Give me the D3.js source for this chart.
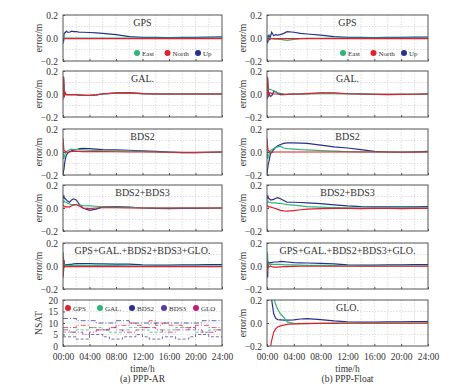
<!DOCTYPE html>
<html>
<head>
<meta charset="utf-8">
<script src="https://cdn.jsdelivr.net/npm/d3@7"></script>
<style>
  body { margin: 0; background: #fff; }
  svg text { font-family: "Liberation Serif", "DejaVu Serif", serif; fill: #333; }
</style>
</head>
<body>
<div id="chart"></div>
<script>
// time samples (hours), denser at the start where the solutions converge
const times = [0, 0.05, 0.1, 0.15, 0.2, 0.3, 0.4, 0.5, 0.7, 1, 1.3, 1.6, 2, 2.5, 3, 4, 5, 6, 8, 10, 12, 14, 16, 18, 20, 22, 24];

// PPP-AR errors (m)
const gpsArE  = [0, 0.02, -0.01, 0, 0, 0, 0, 0, 0, 0, 0, 0, 0, 0, 0, 0, 0, 0, 0, 0, 0, 0, 0, 0, 0, 0, 0];
const gpsArN  = [-0.01, -0.005, -0.005, -0.005, -0.005, -0.005, -0.005, -0.005, -0.005, -0.005, -0.005, -0.005, -0.005, -0.005, -0.005, -0.005, -0.005, -0.005, -0.005, -0.005, -0.005, -0.005, -0.005, -0.005, -0.005, -0.005, -0.005];
const gpsArU  = [-0.05, 0.02, -0.03, 0.03, 0.04, 0.045, 0.05, 0.06, 0.05, 0.05, 0.06, 0.055, 0.055, 0.05, 0.05, 0.048, 0.045, 0.04, 0.03, 0.012, 0.006, 0.005, 0.004, 0.005, 0.006, 0.008, 0.01];
const galArE  = [0.02, 0.1, 0.05, 0.08, 0.02, 0.01, 0, -0.005, -0.005, -0.005, -0.005, -0.005, -0.005, -0.008, -0.01, -0.012, -0.008, 0, 0.008, 0.01, 0.003, 0, 0, 0, 0, 0, 0];
const galArN  = [-0.05, 0.15, 0.12, 0.05, -0.03, 0.02, 0, -0.005, -0.005, -0.005, -0.005, -0.005, -0.005, -0.01, -0.01, -0.012, -0.008, 0.002, 0.01, 0.012, 0.004, 0, 0, 0, 0, 0, 0];
const galArU  = [0, 0.13, 0.15, 0.06, 0.02, 0, -0.005, -0.005, -0.005, -0.005, -0.005, -0.005, -0.005, -0.01, -0.012, -0.013, -0.008, 0, 0.007, 0.008, 0.003, 0, 0, 0, 0, 0, 0];
const bds2ArE = [0.05, -0.02, -0.06, -0.05, -0.04, -0.02, 0, 0.005, 0.01, 0.02, 0.025, 0.02, 0.02, 0.02, 0.018, 0.015, 0.012, 0.01, 0.01, 0.008, 0.005, 0, -0.003, -0.005, -0.005, -0.002, 0];
const bds2ArN = [0.12, 0.08, 0.04, 0.02, 0.01, 0.01, 0, 0, -0.005, 0, 0.005, 0.005, 0.005, 0.005, 0.004, 0.004, 0.004, 0.003, 0.002, 0, 0, 0, -0.002, -0.003, -0.004, -0.002, 0];
const bds2ArU = [-0.2, -0.18, -0.16, -0.15, -0.12, -0.08, -0.05, -0.03, -0.01, 0.005, 0.01, 0.015, 0.02, 0.03, 0.032, 0.03, 0.025, 0.02, 0.018, 0.015, 0.01, 0.005, 0, -0.005, -0.006, -0.003, 0];
const bds3ArE = [0.04, 0.05, 0.06, 0.06, 0.06, 0.05, 0.05, 0.05, 0.04, 0.035, 0.03, 0.03, 0.03, 0.025, 0.02, 0.018, 0.015, 0.01, 0.008, 0.005, 0.002, 0, 0, 0, 0, 0, 0];
const bds3ArN = [0.03, 0.02, 0.02, 0.015, 0.01, 0.01, 0.012, 0.01, 0.01, 0.01, 0.02, 0.025, 0.03, 0.015, 0, -0.005, 0, 0.002, 0.002, 0, 0, 0, 0, 0, 0, 0, 0];
const bds3ArU = [0.11, 0.1, 0.09, 0.1, 0.09, 0.08, 0.08, 0.07, 0.06, 0.05, 0.07, 0.08, 0.07, 0.03, 0, -0.02, -0.01, 0.01, 0.012, 0.008, 0, -0.004, -0.005, -0.004, -0.003, -0.002, 0];
const allArE  = [0.05, 0.12, -0.05, 0.02, 0.01, 0.005, 0.005, 0.005, 0.005, 0.005, 0.005, 0.005, 0.005, 0.005, 0.005, 0.004, 0.004, 0.004, 0.003, 0.002, 0, 0, 0, 0, 0, 0, 0];
const allArN  = [0.08, -0.08, 0.05, 0, -0.01, -0.005, -0.005, -0.005, -0.005, -0.005, -0.005, -0.005, -0.005, -0.005, -0.005, -0.005, -0.005, -0.005, -0.005, -0.005, -0.005, -0.005, -0.005, -0.005, -0.005, -0.005, -0.005];
const allArU  = [-0.1, 0.1, 0.04, 0.05, 0.02, 0.01, 0.01, 0.012, 0.012, 0.015, 0.015, 0.018, 0.02, 0.02, 0.02, 0.02, 0.018, 0.018, 0.017, 0.016, 0.01, 0.008, 0.008, 0.01, 0.01, 0.012, 0.012];

// PPP-Float errors (m)
const gpsFlE  = [0, 0.02, -0.02, 0.01, 0, 0, 0.005, 0, -0.005, -0.008, -0.01, -0.01, -0.012, -0.016, -0.02, -0.012, -0.006, -0.004, -0.002, 0, 0, 0, 0, 0, 0, 0, 0];
const gpsFlN  = [-0.01, -0.005, -0.005, -0.005, -0.005, -0.005, -0.005, -0.005, -0.005, -0.005, -0.005, -0.005, -0.005, -0.005, -0.005, -0.005, -0.005, -0.005, -0.005, -0.005, -0.005, -0.005, -0.005, -0.005, -0.005, -0.005, -0.005];
const gpsFlU  = [-0.05, 0.02, -0.04, -0.03, 0.01, 0.03, -0.02, 0.01, 0.05, 0.02, 0.03, 0.025, 0.03, 0.04, 0.055, 0.05, 0.04, 0.035, 0.025, 0.012, 0.006, 0.005, 0.004, 0.005, 0.006, 0.007, 0.008];
const galFlE  = [0.05, 0.1, 0.06, 0.04, 0.035, 0.04, 0.04, 0.04, 0.035, 0.03, 0.02, 0.01, 0.005, 0, -0.002, -0.002, 0, 0.002, 0.006, 0.004, 0.002, 0, -0.002, -0.004, -0.004, -0.002, 0];
const galFlN  = [0, 0.15, 0.1, 0.05, -0.03, 0, 0.01, 0.01, 0.005, 0, 0, 0, 0, -0.002, -0.003, 0, 0, 0.004, 0.01, 0.01, 0.002, 0, -0.002, -0.004, -0.004, -0.002, 0];
const galFlU  = [-0.05, 0.1, 0.14, 0.08, 0.02, 0.01, -0.01, -0.02, -0.015, 0.02, 0.02, 0.005, -0.005, -0.005, -0.004, 0, 0, 0.003, 0.006, 0.005, 0.002, 0, -0.003, -0.005, -0.004, -0.002, 0];
const bds2FlE = [0.05, -0.02, -0.06, -0.05, -0.04, -0.02, 0, 0.01, 0.02, 0.03, 0.04, 0.045, 0.05, 0.035, 0.03, 0.025, 0.02, 0.018, 0.012, 0.008, 0.004, 0.001, 0, 0, 0, 0, 0];
const bds2FlN = [0.12, 0.08, 0.04, 0.02, 0.01, 0.01, 0, 0, -0.005, 0, 0, 0, 0, 0, 0, 0, 0, 0, 0, 0, 0, 0, 0, 0, -0.002, -0.002, 0];
const bds2FlU = [-0.2, -0.17, -0.14, -0.12, -0.1, -0.08, -0.05, -0.02, 0, 0.02, 0.04, 0.055, 0.065, 0.075, 0.08, 0.08, 0.078, 0.075, 0.06, 0.045, 0.035, 0.02, 0.005, 0, 0, 0.002, 0.006];
const bds3FlE = [0.04, 0.05, 0.06, 0.06, 0.05, 0.05, 0.05, 0.05, 0.045, 0.045, 0.045, 0.04, 0.04, 0.035, 0.03, 0.025, 0.018, 0.012, 0.008, 0.004, 0.002, 0, 0, 0, 0.002, 0.002, 0];
const bds3FlN = [0.03, 0.02, 0.02, 0.015, 0.01, 0.01, 0.01, 0.01, 0.005, 0, -0.005, -0.012, -0.02, -0.025, -0.028, -0.022, -0.015, -0.01, -0.005, -0.003, -0.004, -0.005, -0.004, -0.004, -0.005, -0.004, -0.004];
const bds3FlU = [0.11, 0.1, 0.09, 0.1, 0.09, 0.08, 0.08, 0.07, 0.07, 0.075, 0.085, 0.09, 0.08, 0.065, 0.05, 0.05, 0.048, 0.045, 0.038, 0.028, 0.018, 0.012, 0.01, 0.01, 0.01, 0.01, 0.012];
const allFlE  = [0.05, 0.12, 0.08, -0.02, 0.01, 0.02, 0.015, 0.015, 0.015, 0.015, 0.015, 0.015, 0.015, 0.012, 0.01, 0.01, 0.008, 0.006, 0.005, 0.003, 0.002, 0, 0, 0, 0, 0, 0];
const allFlN  = [0.03, -0.05, 0.02, 0, -0.01, -0.005, -0.005, 0, -0.005, -0.01, -0.01, -0.01, -0.008, -0.006, -0.005, -0.003, -0.002, -0.002, -0.002, -0.002, -0.002, -0.002, -0.002, -0.002, -0.002, -0.002, -0.002];
const allFlU  = [-0.08, 0.05, -0.1, 0.04, 0.02, 0.03, 0.025, 0.03, 0.03, 0.035, 0.035, 0.035, 0.04, 0.038, 0.035, 0.03, 0.028, 0.026, 0.022, 0.018, 0.01, 0.008, 0.008, 0.01, 0.01, 0.012, 0.012];
const gloFlE  = [0.25, 0.25, 0.25, 0.25, 0.25, 0.25, 0.25, 0.25, 0.25, 0.22, 0.16, 0.12, 0.08, 0.05, 0.01, -0.005, -0.006, -0.004, -0.002, 0, 0, 0, 0, 0, 0, 0, 0];
const gloFlN  = [-0.25, -0.25, -0.25, -0.25, -0.25, -0.25, -0.25, -0.22, -0.15, -0.08, -0.05, -0.035, -0.025, -0.018, -0.012, -0.008, -0.006, -0.005, -0.004, -0.003, -0.002, -0.002, -0.002, -0.002, -0.002, -0.002, -0.002];
const gloFlU  = [0.25, 0.25, 0.25, 0.25, 0.25, 0.25, 0.25, 0.25, 0.2, 0.08, 0.04, 0.03, 0.028, 0.025, 0.025, 0.028, 0.035, 0.038, 0.03, 0.018, 0.01, 0.008, 0.008, 0.01, 0.01, 0.012, 0.012];

// number of satellites, hourly
const hours    = d3.range(0, 25);
const nsatGps  = [8, 8, 9, 9, 8, 7, 7, 8, 9, 9, 10, 9, 8, 11, 9, 10, 9, 9, 8, 8, 9, 9, 8, 8, 8];
const nsatGal  = [6, 6, 7, 7, 8, 8, 7, 6, 6, 7, 8, 8, 7, 6, 6, 7, 7, 8, 8, 7, 6, 6, 7, 7, 7];
const nsatBds2 = [12, 12, 11, 11, 11, 10, 10, 10, 11, 11, 10, 10, 10, 10, 10, 10, 10, 10, 10, 10, 10, 11, 11, 11, 11];
const nsatBds3 = [4, 4, 3, 3, 5, 5, 4, 3, 3, 4, 4, 5, 4, 3, 3, 4, 4, 3, 3, 4, 5, 5, 4, 4, 4];
const nsatGlo  = [7, 6, 6, 5, 6, 7, 7, 8, 7, 6, 6, 7, 8, 8, 7, 6, 6, 7, 7, 8, 7, 6, 6, 7, 7];

const comps      = ["East", "North", "Up"];
const systems    = ["GPS", "GAL.", "BDS2", "BDS3", "GLO"];
const xTickHours = [0, 4, 8, 12, 16, 20, 24];
const errTicks   = [-0.2, 0, 0.2];
const nsatTicks  = [0, 5, 10, 15, 20];

const compColor = {East: "#2fb57a", North: "#e3202b", Up: "#27318c"};
const sysColor  = {"GPS": "#e3202b", "GAL.": "#2fb57a", "BDS2": "#27318c", "BDS3": "#5b3c95", "GLO": "#c21a7d"};

const panelsAR = [
  {title: "GPS", s: [gpsArE, gpsArN, gpsArU], legend: true},
  {title: "GAL.", s: [galArE, galArN, galArU]},
  {title: "BDS2", s: [bds2ArE, bds2ArN, bds2ArU]},
  {title: "BDS2+BDS3", s: [bds3ArE, bds3ArN, bds3ArU]},
  {title: "GPS+GAL.+BDS2+BDS3+GLO.", s: [allArE, allArN, allArU]},
  {nsat: true}
];
const panelsFl = [
  {title: "GPS", s: [gpsFlE, gpsFlN, gpsFlU], legend: true},
  {title: "GAL.", s: [galFlE, galFlN, galFlU]},
  {title: "BDS2", s: [bds2FlE, bds2FlN, bds2FlU]},
  {title: "BDS2+BDS3", s: [bds3FlE, bds3FlN, bds3FlU]},
  {title: "GPS+GAL.+BDS2+BDS3+GLO.", s: [allFlE, allFlN, allFlU]},
  {title: "GLO.", s: [gloFlE, gloFlN, gloFlU]}
];

const W = 474, H = 389;
const tops = [15, 71, 129, 185, 243, 300];
const ph = 46;
const cols = [
  {x0: 63, x1: 222, panels: panelsAR, caption: "(a) PPP-AR"},
  {x0: 267, x1: 428, panels: panelsFl, caption: "(b) PPP-Float"}
];

const svg = d3.select("#chart").append("svg")
  .attr("width", W).attr("height", H);

const fmtErr = d => d === 0 ? "0.0" : (d < 0 ? "\u22120.2" : "0.2");
const fmtHour = d => (d < 10 ? "0" + d : d) + ":00";

cols.forEach((col, ci) => {
  const x = d3.scaleLinear().domain([0, 24]).range([col.x0, col.x1]);

  col.panels.forEach((p, pi) => {
    const top = tops[pi];
    const y = p.nsat
      ? d3.scaleLinear().domain([0, 20]).range([top + ph, top])
      : d3.scaleLinear().domain([-0.2, 0.2]).range([top + ph, top]);
    const g = svg.append("g");
    const clipId = `clip-${ci}-${pi}`;
    g.append("clipPath").attr("id", clipId)
      .append("rect").attr("x", col.x0).attr("y", top)
      .attr("width", col.x1 - col.x0).attr("height", ph);

    // dashed grid
    const grid = g.append("g").attr("stroke", "#c8c8c8").attr("stroke-width", 0.6)
      .attr("stroke-dasharray", "1.5,1.5");
    grid.selectAll("line.v").data(d3.range(2, 24, 2)).join("line")
      .attr("x1", d => x(d)).attr("x2", d => x(d))
      .attr("y1", top).attr("y2", top + ph);
    const hGrid = p.nsat ? [5, 10, 15] : [-0.1, 0, 0.1];
    grid.selectAll("line.h").data(hGrid).join("line")
      .attr("x1", col.x0).attr("x2", col.x1)
      .attr("y1", d => y(d)).attr("y2", d => y(d));

    const plot = g.append("g").attr("clip-path", `url(#${clipId})`);

    if (p.nsat) {
      const sets = [nsatGps, nsatGal, nsatBds2, nsatBds3, nsatGlo];
      const line = d3.line().x((d, i) => x(hours[i])).y(d => y(d)).curve(d3.curveStepAfter);
      sets.forEach((vals, si) => {
        plot.append("path").datum(vals)
          .attr("d", line)
          .attr("fill", "none")
          .attr("stroke", sysColor[systems[si]])
          .attr("stroke-width", 1)
          .attr("stroke-opacity", 0.75)
          .attr("stroke-dasharray", si % 2 ? "3,2" : "5,2,1,2");
      });
      // legend
      const lg = g.append("g").attr("font-size", 7);
      systems.forEach((s, si) => {
        const lx = col.x0 + 5 + si * 32;
        lg.append("circle").attr("cx", lx).attr("cy", top + 8).attr("r", 3).attr("fill", sysColor[s]);
        lg.append("text").attr("x", lx + 5).attr("y", top + 10.5).text(s);
      });
    } else {
      const line = d3.line().x((d, i) => x(times[i])).y(d => y(d));
      // draw Up first so North/East stay visible, as in the figure
      [2, 0, 1].forEach(k => {
        plot.append("path").datum(p.s[k])
          .attr("d", line)
          .attr("fill", "none")
          .attr("stroke", compColor[comps[k]])
          .attr("stroke-width", 1.2);
      });
      g.append("text")
        .attr("x", (col.x0 + col.x1) / 2).attr("y", top + 11)
        .attr("text-anchor", "middle").attr("font-size", 10)
        .text(p.title);
      if (p.legend) {
        const lg = g.append("g").attr("font-size", 7);
        comps.forEach((c, k) => {
          const lx = col.x1 - 85 + k * 30.5;
          lg.append("circle").attr("cx", lx).attr("cy", top + 38).attr("r", 3).attr("fill", compColor[c]);
          lg.append("text").attr("x", lx + 5).attr("y", top + 40.5).text(c);
        });
      }
    }

    // frame
    g.append("rect").attr("x", col.x0).attr("y", top)
      .attr("width", col.x1 - col.x0).attr("height", ph)
      .attr("fill", "none").attr("stroke", "#555").attr("stroke-width", 1);

    // axes with small inward ticks
    const yAxis = d3.axisLeft(y).tickValues(p.nsat ? nsatTicks : errTicks)
      .tickSize(-2).tickPadding(5).tickFormat(p.nsat ? d3.format("d") : fmtErr);
    const ya = g.append("g").attr("transform", `translate(${col.x0},0)`).call(yAxis);
    ya.select(".domain").remove();
    ya.selectAll("line").attr("stroke", "#555");
    ya.selectAll("text").attr("font-size", 9.5).attr("font-family", "Liberation Serif, serif").attr("fill", "#333");

    const xAxis = d3.axisBottom(x).tickValues(xTickHours).tickSize(-2).tickPadding(7)
      .tickFormat(pi === 5 ? fmtHour : "");
    const xa = g.append("g").attr("transform", `translate(0,${top + ph})`).call(xAxis);
    xa.select(".domain").remove();
    xa.selectAll("line").attr("stroke", "#555");
    xa.selectAll("text").attr("font-size", 9.5).attr("font-family", "Liberation Serif, serif")
      .attr("fill", "#333");

    // y label
    g.append("text")
      .attr("transform", `translate(${col.x0 - 21},${top + ph / 2}) rotate(-90)`)
      .attr("text-anchor", "middle").attr("font-size", 9.5)
      .text(p.nsat ? "NSAT" : "error/m");
  });

  const cx = (col.x0 + col.x1) / 2;
  svg.append("text").attr("x", cx).attr("y", 372).attr("text-anchor", "middle")
    .attr("font-size", 9.5).text("time/h");
  svg.append("text").attr("x", cx).attr("y", 382).attr("text-anchor", "middle")
    .attr("font-size", 9.5).text(col.caption);
});
</script>
</body>
</html>
